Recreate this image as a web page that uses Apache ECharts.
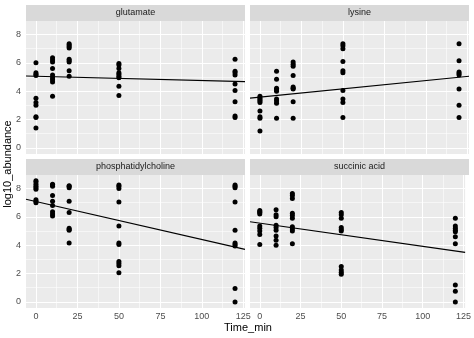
<!DOCTYPE html>
<html>
<head>
<meta charset="utf-8">
<script src="https://cdn.jsdelivr.net/npm/echarts@6/dist/echarts.min.js"></script>
<style>
  html, body { margin: 0; padding: 0; background: #ffffff; }
  #chart { width: 474px; height: 338px; }
</style>
</head>
<body>
<div id="chart"></div>
<script>
// Facet titles, in panel order (left-to-right, top-to-bottom)
const facetNames = ['glutamate', 'lysine', 'phosphatidylcholine', 'succinic acid'];

// Sampling times (minutes)
const timesMin = [0, 10, 20, 50, 120];

// log10 abundance per sampling time, one inner array per time point
const glutamate = [
  [6.0, 5.3, 5.2, 5.1, 3.5, 3.2, 3.0, 2.2, 2.15, 1.4],
  [6.35, 6.2, 6.05, 5.6, 5.15, 4.95, 4.8, 4.65, 3.65],
  [7.35, 7.25, 7.15, 7.05, 6.25, 6.15, 6.05, 5.45, 5.05],
  [5.95, 5.85, 5.6, 5.3, 5.2, 5.05, 4.95, 4.35, 3.7],
  [6.25, 5.4, 5.3, 5.15, 4.5, 4.05, 3.25, 2.25, 2.15]
];
const lysine = [
  [3.65, 3.5, 3.4, 3.3, 3.2, 2.6, 2.2, 2.1, 1.2],
  [5.4, 4.85, 4.2, 4.1, 4.0, 3.45, 3.3, 3.15, 2.1],
  [6.05, 5.9, 5.75, 5.1, 4.3, 4.2, 4.15, 3.25, 2.1],
  [7.35, 7.2, 7.0, 6.1, 5.45, 5.3, 4.05, 3.45, 3.2, 2.15],
  [7.35, 6.15, 5.35, 5.25, 5.15, 4.15, 3.0, 2.15]
];
const phosphatidylcholine = [
  [8.55, 8.45, 8.3, 8.15, 8.05, 7.95, 7.2, 7.1, 7.0],
  [8.3, 8.25, 8.15, 7.5, 7.1, 6.8, 6.35, 6.2, 6.05],
  [8.2, 8.15, 8.05, 7.1, 6.3, 5.2, 5.1, 5.05, 4.15],
  [8.25, 8.15, 8.0, 7.05, 5.35, 4.15, 4.05, 2.85, 2.7, 2.55, 2.05],
  [8.25, 8.15, 8.05, 7.05, 5.05, 4.15, 4.05, 3.95, 0.95, 0.0]
];
const succinicAcid = [
  [6.45, 6.35, 6.3, 6.2, 5.35, 5.2, 5.0, 4.75, 4.05],
  [6.5, 6.15, 6.0, 5.4, 5.25, 5.05, 4.65, 4.35, 4.0],
  [7.65, 7.5, 7.3, 6.25, 6.1, 5.9, 5.3, 5.15, 5.0, 4.1],
  [6.3, 6.15, 5.9, 5.25, 5.1, 5.0, 2.5, 2.25, 2.1, 1.95],
  [5.9, 5.35, 5.2, 5.05, 4.95, 4.6, 4.1, 1.2, 0.75, 0.0]
];

// Linear trend per facet: abundance = intercept + slope * time
const fitIntercept = [5.05, 3.58, 7.08, 5.56];
const fitSlope = [-0.0030, 0.0117, -0.0268, -0.0164];

// Axis ticks and limits
const xTicks = [0, 25, 50, 75, 100, 125];
const xMinorTicks = [12.5, 37.5, 62.5, 87.5, 112.5];
const yTicks = [0, 2, 4, 6, 8];
const yMinorTicks = [1, 3, 5, 7];
const xRange = [-6, 126];
const yRange = [-0.43, 8.95];

const facetData = [glutamate, lysine, phosphatidylcholine, succinicAcid];

const FONT = 'Liberation Sans, Arial, Helvetica, sans-serif';
const panelW = 219, panelH = 133, stripH = 16;
const panels = [
  { left: 26, top: 21, showX: false, showY: true },
  { left: 250, top: 21, showX: false, showY: false },
  { left: 26, top: 175, showX: true, showY: true },
  { left: 250, top: 175, showX: true, showY: false }
];

const grids = [], xAxes = [], yAxes = [], series = [], graphics = [];

panels.forEach((p, i) => {
  grids.push({
    left: p.left, top: p.top, width: panelW, height: panelH,
    show: true, backgroundColor: '#EBEBEB', borderWidth: 0, containLabel: false
  });

  xAxes.push({
    gridIndex: i, type: 'value', min: xRange[0], max: xRange[1],
    axisLine: { show: false },
    splitLine: { show: false },
    axisTick: { show: p.showX, length: 2.75, customValues: xTicks, lineStyle: { color: '#333333', width: 1 } },
    axisLabel: { show: p.showX, customValues: xTicks, color: '#4D4D4D', fontSize: 9, fontFamily: FONT, margin: 4 }
  });

  yAxes.push({
    gridIndex: i, type: 'value', min: yRange[0], max: yRange[1],
    axisLine: { show: false },
    splitLine: { show: false },
    axisTick: { show: p.showY, length: 2.75, customValues: yTicks, lineStyle: { color: '#333333', width: 1 } },
    axisLabel: { show: p.showY, customValues: yTicks, color: '#4D4D4D', fontSize: 9, fontFamily: FONT, margin: 5 }
  });

  // Panel grid lines (major and minor) as mark lines kept behind the points
  const gridLines = [];
  xMinorTicks.forEach(v => gridLines.push({ xAxis: v, lineStyle: { color: '#FFFFFF', width: 0.55, type: 'solid' } }));
  yMinorTicks.forEach(v => gridLines.push({ yAxis: v, lineStyle: { color: '#FFFFFF', width: 0.55, type: 'solid' } }));
  xTicks.forEach(v => gridLines.push({ xAxis: v, lineStyle: { color: '#FFFFFF', width: 1.1, type: 'solid' } }));
  yTicks.forEach(v => gridLines.push({ yAxis: v, lineStyle: { color: '#FFFFFF', width: 1.1, type: 'solid' } }));
  series.push({
    type: 'scatter', xAxisIndex: i, yAxisIndex: i, z: 1, silent: true,
    symbolSize: 0, data: [[xRange[0], yRange[0]]],
    markLine: { z: 1, symbol: 'none', silent: true, animation: false, label: { show: false }, data: gridLines }
  });

  // Observations
  const pts = [];
  facetData[i].forEach((vals, k) => vals.forEach(v => pts.push([timesMin[k], v])));
  series.push({
    type: 'scatter', xAxisIndex: i, yAxisIndex: i, z: 6,
    symbol: 'circle', symbolSize: 5, itemStyle: { color: '#000000', opacity: 1 }, data: pts
  });

  // Trend line across the full panel width
  const a = fitIntercept[i], b = fitSlope[i];
  series.push({
    type: 'line', xAxisIndex: i, yAxisIndex: i, z: 7,
    symbol: 'none', lineStyle: { color: '#000000', width: 1.1 }, clip: true,
    data: [[xRange[0], a + b * xRange[0]], [xRange[1], a + b * xRange[1]]]
  });

  // Facet strip
  graphics.push({
    type: 'rect', shape: { x: p.left, y: p.top - stripH, width: panelW, height: stripH },
    style: { fill: '#D9D9D9' }, silent: true
  });
  graphics.push({
    type: 'text', x: p.left + panelW / 2, y: p.top - stripH / 2, silent: true,
    style: { text: facetNames[i], fill: '#1A1A1A', fontSize: 9, fontFamily: FONT, align: 'center', verticalAlign: 'middle' }
  });
});

// Axis titles
graphics.push({
  type: 'text', x: 248, y: 328, silent: true,
  style: { text: 'Time_min', fill: '#000000', fontSize: 11, fontFamily: FONT, align: 'center', verticalAlign: 'middle' }
});
graphics.push({
  type: 'text', x: 8, y: 164, rotation: Math.PI / 2, silent: true,
  style: { text: 'log10_abundance', fill: '#000000', fontSize: 11, fontFamily: FONT, align: 'center', verticalAlign: 'middle' }
});

const chart = echarts.init(document.getElementById('chart'), null, { renderer: 'canvas' });
chart.setOption({
  animation: false,
  backgroundColor: '#FFFFFF',
  grid: grids,
  xAxis: xAxes,
  yAxis: yAxes,
  series: series,
  graphic: graphics
});
</script>
</body>
</html>
